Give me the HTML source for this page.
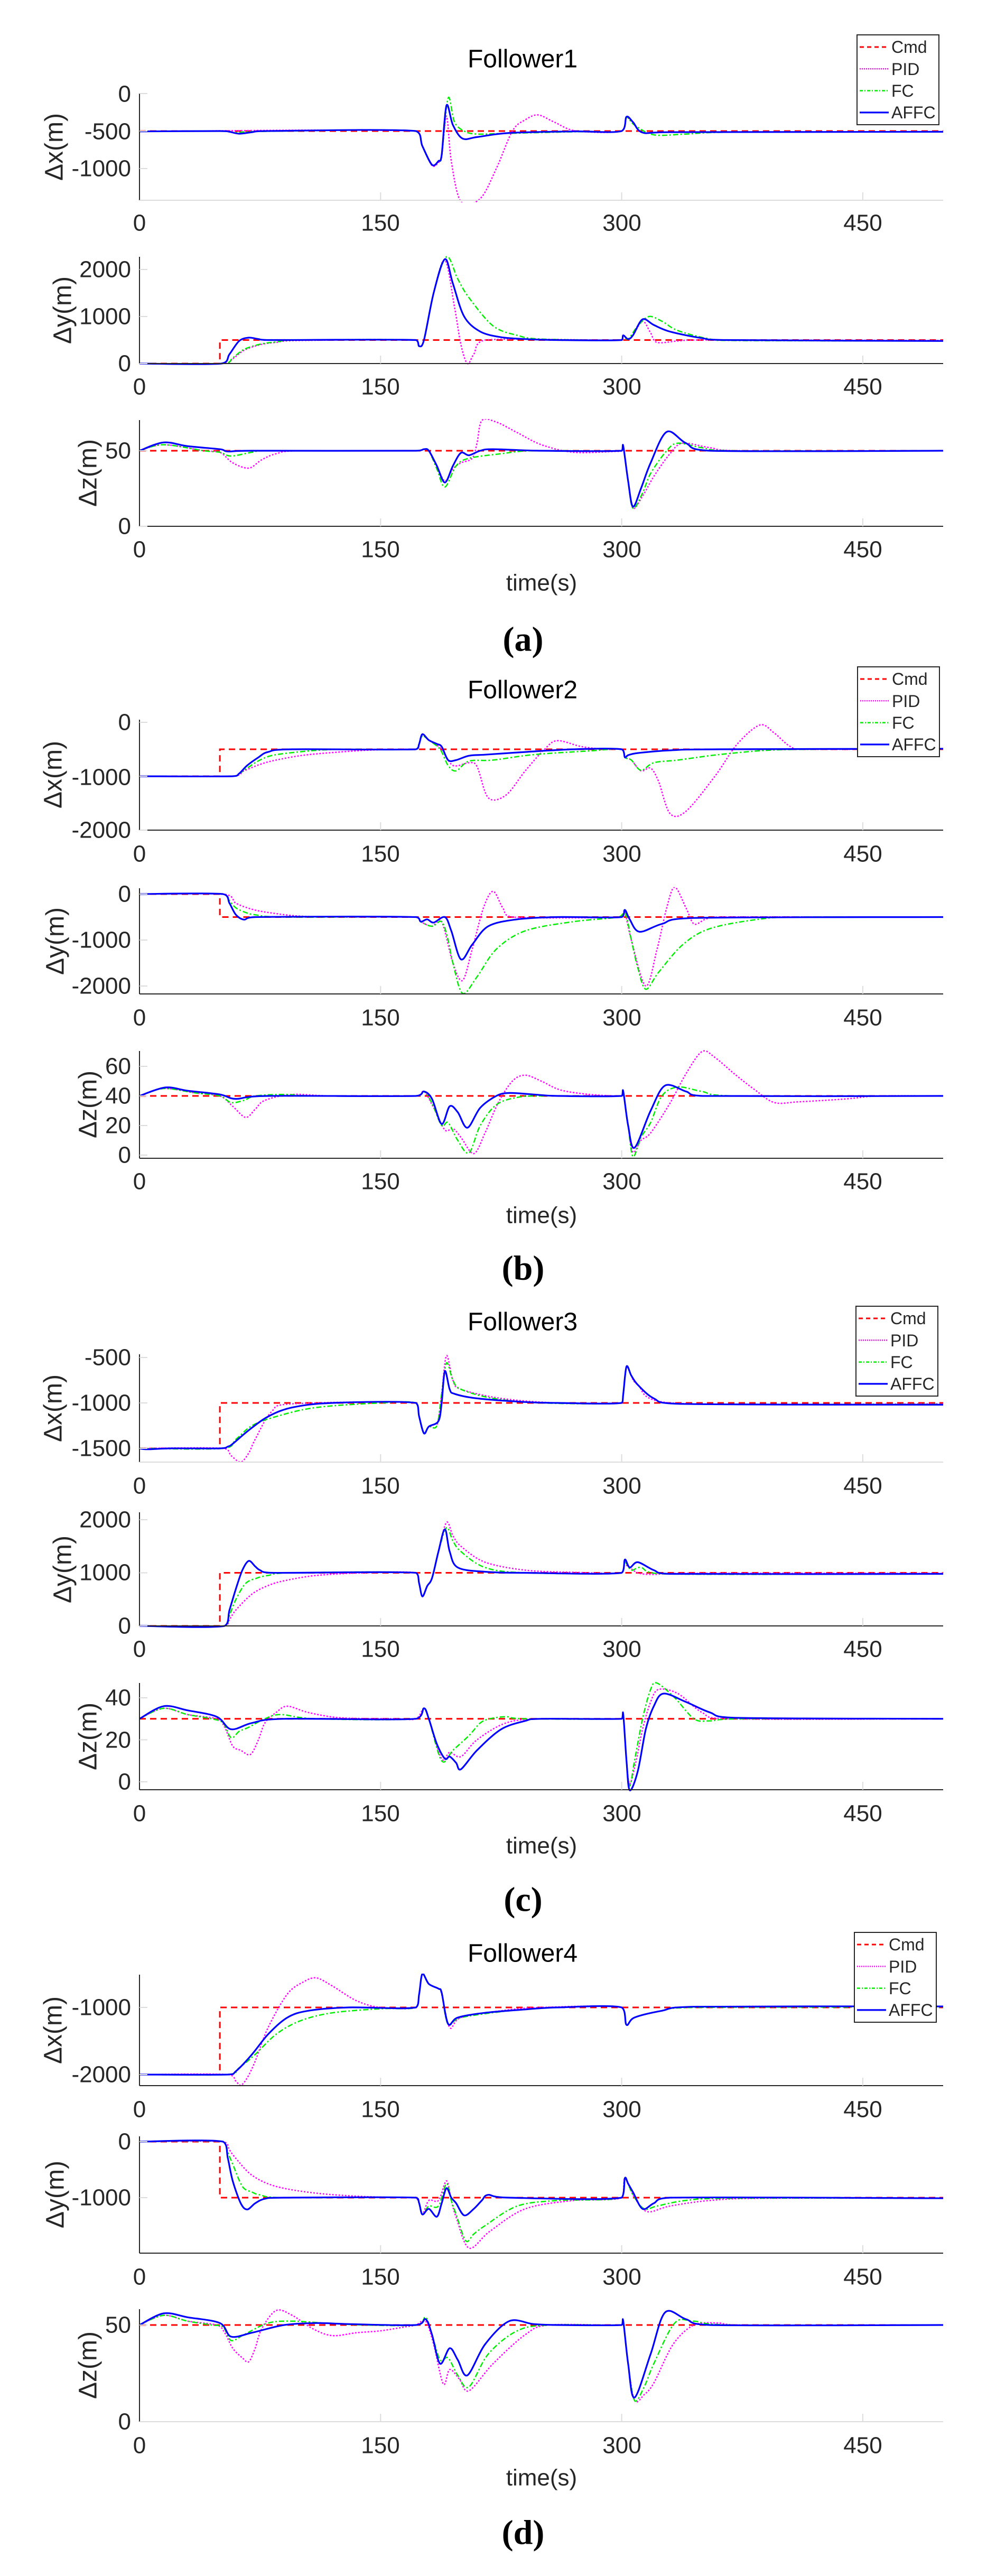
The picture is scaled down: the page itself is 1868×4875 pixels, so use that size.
<!DOCTYPE html>
<html><head><meta charset="utf-8"><style>
html,body{margin:0;padding:0;background:#fff;}
svg{display:block;}
text{font-family:"Liberation Sans",Arial,sans-serif;fill:#262626;}
.tk{font-size:44px;}
.yl{font-size:48px;}
.ti{font-size:48px;fill:#000;}
.lg{font-size:32px;fill:#000;}
.cap{font-family:"Liberation Serif",serif;font-size:66px;font-weight:bold;fill:#000;}
</style></head><body>
<svg id="s" width="1868" height="4875" viewBox="0 0 1868 4875" xmlns="http://www.w3.org/2000/svg">
<g id="plots"></g>
<g id="axes"></g>
<!-- Panel a text -->
<text class="ti" x="989" y="112" text-anchor="middle" dominant-baseline="central">Follower1</text>
<text class="yl" transform="translate(103,278) rotate(-90)" text-anchor="middle" dominant-baseline="central">Δx(m)</text>
<text class="yl" transform="translate(119,587) rotate(-90)" text-anchor="middle" dominant-baseline="central">Δy(m)</text>
<text class="yl" transform="translate(167,895) rotate(-90)" text-anchor="middle" dominant-baseline="central">Δz(m)</text>
<text class="tk" x="248" y="178" text-anchor="end" dominant-baseline="central">0</text>
<text class="tk" x="248" y="249" text-anchor="end" dominant-baseline="central">-500</text>
<text class="tk" x="248" y="319" text-anchor="end" dominant-baseline="central">-1000</text>
<text class="tk" x="248" y="510" text-anchor="end" dominant-baseline="central">2000</text>
<text class="tk" x="248" y="599" text-anchor="end" dominant-baseline="central">1000</text>
<text class="tk" x="248" y="688" text-anchor="end" dominant-baseline="central">0</text>
<text class="tk" x="248" y="853" text-anchor="end" dominant-baseline="central">50</text>
<text class="tk" x="248" y="996" text-anchor="end" dominant-baseline="central">0</text>
<g class="tk" text-anchor="middle" dominant-baseline="central">
<text x="264" y="422">0</text><text x="720" y="422">150</text><text x="1177" y="422">300</text><text x="1633" y="422">450</text>
<text x="264" y="732">0</text><text x="720" y="732">150</text><text x="1177" y="732">300</text><text x="1633" y="732">450</text>
<text x="264" y="1040">0</text><text x="720" y="1040">150</text><text x="1177" y="1040">300</text><text x="1633" y="1040">450</text>
</g>
<text class="yl" x="1025" y="1103" text-anchor="middle" dominant-baseline="central" style="font-size:44px">time(s)</text>
<text class="cap" x="990" y="1210" text-anchor="middle" dominant-baseline="central">(a)</text>

<!-- Panel b text -->
<text class="ti" x="989" y="1306" text-anchor="middle" dominant-baseline="central">Follower2</text>
<text class="yl" transform="translate(101,1466) rotate(-90)" text-anchor="middle" dominant-baseline="central">Δx(m)</text>
<text class="yl" transform="translate(105,1781) rotate(-90)" text-anchor="middle" dominant-baseline="central">Δy(m)</text>
<text class="yl" transform="translate(167,2090) rotate(-90)" text-anchor="middle" dominant-baseline="central">Δz(m)</text>
<text class="tk" x="248" y="1367" text-anchor="end" dominant-baseline="central">0</text>
<text class="tk" x="248" y="1471" text-anchor="end" dominant-baseline="central">-1000</text>
<text class="tk" x="248" y="1571" text-anchor="end" dominant-baseline="central">-2000</text>
<text class="tk" x="248" y="1692" text-anchor="end" dominant-baseline="central">0</text>
<text class="tk" x="248" y="1779" text-anchor="end" dominant-baseline="central">-1000</text>
<text class="tk" x="248" y="1866" text-anchor="end" dominant-baseline="central">-2000</text>
<text class="tk" x="248" y="2018" text-anchor="end" dominant-baseline="central">60</text>
<text class="tk" x="248" y="2074" text-anchor="end" dominant-baseline="central">40</text>
<text class="tk" x="248" y="2130" text-anchor="end" dominant-baseline="central">20</text>
<text class="tk" x="248" y="2186" text-anchor="end" dominant-baseline="central">0</text>
<g class="tk" text-anchor="middle" dominant-baseline="central">
<text x="264" y="1616">0</text><text x="720" y="1616">150</text><text x="1177" y="1616">300</text><text x="1633" y="1616">450</text>
<text x="264" y="1926">0</text><text x="720" y="1926">150</text><text x="1177" y="1926">300</text><text x="1633" y="1926">450</text>
<text x="264" y="2236">0</text><text x="720" y="2236">150</text><text x="1177" y="2236">300</text><text x="1633" y="2236">450</text>
</g>
<text class="yl" x="1025" y="2300" text-anchor="middle" dominant-baseline="central" style="font-size:44px">time(s)</text>
<text class="cap" x="990" y="2400" text-anchor="middle" dominant-baseline="central">(b)</text>

<!-- Panel c text -->
<text class="ti" x="989" y="2502" text-anchor="middle" dominant-baseline="central">Follower3</text>
<text class="yl" transform="translate(101,2665) rotate(-90)" text-anchor="middle" dominant-baseline="central">Δx(m)</text>
<text class="yl" transform="translate(119,2970) rotate(-90)" text-anchor="middle" dominant-baseline="central">Δy(m)</text>
<text class="yl" transform="translate(167,3286) rotate(-90)" text-anchor="middle" dominant-baseline="central">Δz(m)</text>
<text class="tk" x="248" y="2569" text-anchor="end" dominant-baseline="central">-500</text>
<text class="tk" x="248" y="2655" text-anchor="end" dominant-baseline="central">-1000</text>
<text class="tk" x="248" y="2741" text-anchor="end" dominant-baseline="central">-1500</text>
<text class="tk" x="248" y="2876" text-anchor="end" dominant-baseline="central">2000</text>
<text class="tk" x="248" y="2976" text-anchor="end" dominant-baseline="central">1000</text>
<text class="tk" x="248" y="3077" text-anchor="end" dominant-baseline="central">0</text>
<text class="tk" x="248" y="3213" text-anchor="end" dominant-baseline="central">40</text>
<text class="tk" x="248" y="3293" text-anchor="end" dominant-baseline="central">20</text>
<text class="tk" x="248" y="3372" text-anchor="end" dominant-baseline="central">0</text>
<g class="tk" text-anchor="middle" dominant-baseline="central">
<text x="264" y="2812">0</text><text x="720" y="2812">150</text><text x="1177" y="2812">300</text><text x="1633" y="2812">450</text>
<text x="264" y="3121">0</text><text x="720" y="3121">150</text><text x="1177" y="3121">300</text><text x="1633" y="3121">450</text>
<text x="264" y="3432">0</text><text x="720" y="3432">150</text><text x="1177" y="3432">300</text><text x="1633" y="3432">450</text>
</g>
<text class="yl" x="1025" y="3493" text-anchor="middle" dominant-baseline="central" style="font-size:44px">time(s)</text>
<text class="cap" x="990" y="3595" text-anchor="middle" dominant-baseline="central">(c)</text>

<!-- Panel d text -->
<text class="ti" x="989" y="3697" text-anchor="middle" dominant-baseline="central">Follower4</text>
<text class="yl" transform="translate(101,3842) rotate(-90)" text-anchor="middle" dominant-baseline="central">Δx(m)</text>
<text class="yl" transform="translate(105,4153) rotate(-90)" text-anchor="middle" dominant-baseline="central">Δy(m)</text>
<text class="yl" transform="translate(167,4476) rotate(-90)" text-anchor="middle" dominant-baseline="central">Δz(m)</text>
<text class="tk" x="248" y="3799" text-anchor="end" dominant-baseline="central">-1000</text>
<text class="tk" x="248" y="3926" text-anchor="end" dominant-baseline="central">-2000</text>
<text class="tk" x="248" y="4053" text-anchor="end" dominant-baseline="central">0</text>
<text class="tk" x="248" y="4159" text-anchor="end" dominant-baseline="central">-1000</text>
<text class="tk" x="248" y="4400" text-anchor="end" dominant-baseline="central">50</text>
<text class="tk" x="248" y="4583" text-anchor="end" dominant-baseline="central">0</text>
<g class="tk" text-anchor="middle" dominant-baseline="central">
<text x="264" y="3992">0</text><text x="720" y="3992">150</text><text x="1177" y="3992">300</text><text x="1633" y="3992">450</text>
<text x="264" y="4309">0</text><text x="720" y="4309">150</text><text x="1177" y="4309">300</text><text x="1633" y="4309">450</text>
<text x="264" y="4628">0</text><text x="720" y="4628">150</text><text x="1177" y="4628">300</text><text x="1633" y="4628">450</text>
</g>
<text class="yl" x="1025" y="4689" text-anchor="middle" dominant-baseline="central" style="font-size:44px">time(s)</text>
<text class="cap" x="990" y="4793" text-anchor="middle" dominant-baseline="central">(d)</text>

<!-- Legends -->
<g id="legends"></g>
<g class="lg">
<text x="1687" y="89" dominant-baseline="central">Cmd</text><text x="1687" y="131" dominant-baseline="central">PID</text><text x="1687" y="172" dominant-baseline="central">FC</text><text x="1687" y="213" dominant-baseline="central">AFFC</text>
<text x="1688" y="1285" dominant-baseline="central">Cmd</text><text x="1688" y="1327" dominant-baseline="central">PID</text><text x="1688" y="1368" dominant-baseline="central">FC</text><text x="1688" y="1409" dominant-baseline="central">AFFC</text>
<text x="1685" y="2495" dominant-baseline="central">Cmd</text><text x="1685" y="2537" dominant-baseline="central">PID</text><text x="1685" y="2578" dominant-baseline="central">FC</text><text x="1685" y="2619" dominant-baseline="central">AFFC</text>
<text x="1682" y="3680" dominant-baseline="central">Cmd</text><text x="1682" y="3722" dominant-baseline="central">PID</text><text x="1682" y="3763" dominant-baseline="central">FC</text><text x="1682" y="3804" dominant-baseline="central">AFFC</text>
</g>
</svg>
<script>
(function(){
var NS="http://www.w3.org/2000/svg";
var plots=document.getElementById('plots'),axes=document.getElementById('axes'),leg=document.getElementById('legends');
var X0=264,X1=1785;
function X(t){return X0+t*(X1-X0)/500;}
function el(n,a,p){var e=document.createElementNS(NS,n);for(var k in a)e.setAttribute(k,a[k]);(p||plots).appendChild(e);return e;}
var ST={
 cmd:{stroke:'#ff0000','stroke-width':3,'stroke-dasharray':'12 8',fill:'none'},
 pid:{stroke:'#ff00ff','stroke-width':2.5,'stroke-dasharray':'3 3',fill:'none'},
 fc:{stroke:'#00ee00','stroke-width':2.5,'stroke-dasharray':'10 4 3 4',fill:'none'},
 af:{stroke:'#0000ff','stroke-width':3.2,fill:'none'}
};
var cid=0;
function parse(s){return s.trim().split(/\s+/).map(function(p){var a=p.split(':');return [+a[0],+a[1]];});}
function smooth(pts){
 var d='M'+pts[0][0].toFixed(1)+','+pts[0][1].toFixed(1);
 for(var i=0;i<pts.length-1;i++){
  var p0=pts[i-1]||pts[i],p1=pts[i],p2=pts[i+1],p3=pts[i+2]||pts[i+1];
  var k=0.16;
  var c1x=p1[0]+(p2[0]-p0[0])*k,c1y=p1[1]+(p2[1]-p0[1])*k;
  var c2x=p2[0]-(p3[0]-p1[0])*k,c2y=p2[1]-(p3[1]-p1[1])*k;
  // clamp x to keep monotonic
  c1x=Math.min(Math.max(c1x,p1[0]),p2[0]);c2x=Math.min(Math.max(c2x,p1[0]),p2[0]);
  d+='C'+c1x.toFixed(1)+','+c1y.toFixed(1)+' '+c2x.toFixed(1)+','+c2y.toFixed(1)+' '+p2[0].toFixed(1)+','+p2[1].toFixed(1);
 }
 return d;
}
function ax(cfg){
 var v1=cfg.r[0],y1=cfg.r[1],v2=cfg.r[2],y2=cfg.r[3];
 function Y(v){return y1+(v-v1)*(y2-y1)/(v2-v1);}
 cid++;
 var cp=el('clipPath',{id:'c'+cid});
 el('rect',{x:X0,y:cfg.top-2,width:X1-X0+4,height:cfg.bot-cfg.top+6},cp);
 var g=el('g',{'clip-path':'url(#c'+cid+')'});
 // cmd
 var cmd=cfg.cmd;var cd;
 if(cmd.length==1){cd='M'+X(0)+','+Y(cmd[0])+'L'+X(500)+','+Y(cmd[0]);}
 else{cd='M'+X(0)+','+Y(cmd[0])+'L'+X(50)+','+Y(cmd[0])+'L'+X(50)+','+Y(cmd[1])+'L'+X(500)+','+Y(cmd[1]);}
 var order=[['pid',cfg.pid],['fc',cfg.fc],['af',cfg.af]];
 var p=el('path',Object.assign({d:cd},ST.cmd),g);
 order.forEach(function(o){
  var pts=parse(o[1]).map(function(q){return [X(q[0]),Y(q[1])];});
  el('path',Object.assign({d:smooth(pts),'stroke-linejoin':'round'},ST[o[0]]),g);
 });
 // axes
 var dark='#262626',light='#dcdcdc';
 el('line',{x1:X0,y1:cfg.top,x2:X0,y2:cfg.bot,stroke:dark,'stroke-width':2},axes);
 el('line',{x1:X0,y1:cfg.bot,x2:X1,y2:cfg.bot,stroke:cfg.lb?light:dark,'stroke-width':2},axes);
 [150,300,450].forEach(function(t){el('line',{x1:X(t),y1:cfg.bot,x2:X(t),y2:cfg.bot-15,stroke:light,'stroke-width':2},axes);});
 cfg.yt.forEach(function(v){el('line',{x1:X0,y1:Y(v),x2:X0+15,y2:Y(v),stroke:light,'stroke-width':2},axes);});
}
function legend(x,y){
 el('rect',{x:x,y:y,width:155,height:170,fill:'#fff',stroke:'#262626','stroke-width':2},leg);
 var k=['cmd','pid','fc','af'];
 for(var i=0;i<4;i++){var yy=y+23+i*41.3;el('line',Object.assign({x1:x+5,y1:yy,x2:x+60,y2:yy},ST[k[i]],{'stroke-dasharray':ST[k[i]]['stroke-dasharray']?({cmd:'8 6',pid:'2 2',fc:'6 3 2 3'})[k[i]]:'none'}),leg);}
}
// Panel a
ax({top:177,bot:379,r:[0,177,-1000,319],yt:[0,-500,-1000],lb:1,cmd:[-500],
 af:"0:-505 50:-500 56:-510 62:-535 70:-515 78:-500 172:-500 176:-700 182:-950 186:-900 188:-820 191:-160 195:-420 201:-600 210:-580 230:-525 270:-505 300:-500 303:-310 307:-380 313:-520 330:-515 500:-510",
 fc:"0:-505 50:-500 60:-520 75:-505 172:-500 176:-700 182:-950 186:-900 188:-820 192:-60 196:-380 202:-500 210:-540 230:-530 270:-510 300:-500 303:-320 308:-420 320:-550 340:-540 370:-515 500:-510",
 pid:"0:-505 172:-500 176:-700 182:-960 186:-920 188:-840 191:-300 194:-900 200:-1440 212:-1400 222:-1000 232:-500 240:-350 248:-285 258:-380 272:-500 300:-500 303:-320 308:-420 313:-520 330:-515 500:-510"});
ax({top:486,bot:688,r:[0,688,2000,510],yt:[0,1000,2000],cmd:[0,500],
 af:"0:0 51:0 56:200 62:480 68:550 74:520 80:500 172:500 174:370 177:500 183:1500 190:2220 195:1700 202:1000 212:680 225:560 240:520 260:500 300:500 301:600 304:520 307:600 313:940 320:820 330:680 350:540 365:500 500:480",
 fc:"0:0 52:0 58:120 65:300 75:410 85:460 100:500 172:500 174:370 177:500 183:1500 191:2270 198:1800 205:1400 220:800 235:600 250:520 300:500 301:600 304:520 310:800 317:1000 325:900 335:700 355:520 370:490 500:480",
 pid:"0:0 52:0 58:100 65:280 75:400 85:450 100:490 172:500 174:370 177:500 183:1500 190:2200 196:1200 200:400 204:0 208:200 215:500 300:500 301:600 304:520 307:600 313:900 318:650 322:450 335:480 350:500 500:490"});
ax({top:795,bot:996,r:[0,996,50,853],yt:[0,50],cmd:[50],
 af:"0:50 15:55.5 30:53 50:51 55:49.5 70:50 172:50 177:51 180:50 185:40 190:29 195:40 200:48.6 205:47 212:50 220:51 250:50 300:50 301:53 304:30 307:13 312:25 318:42 328:62.5 340:55 355:50 500:50",
 fc:"0:50 15:54 40:50 50:49 57:46.5 70:49 80:50 172:50 177:51 180:50 185:38 190:26 197:40 205:45 225:48 245:50 300:50 301:53 304:30 307:12 313:22 318:35 328:50 335:55 350:52 370:50 500:50",
 pid:"0:50 15:54 40:50 50:49 58:42 68:38.5 76:44 85:48 100:50 172:50 177:51 180:50 185:40 190:30 195:38 200:42 207:45 210:55 213:70 222:69 235:62 250:54 270:49 295:49.5 300:50 301:53 304:30 307:12 313:20 320:33 330:48 338:55 355:52 375:50 500:50"});
// Panel b
ax({top:1362,bot:1571,r:[0,1367,-2000,1571],yt:[0,-1000,-2000],cmd:[-1000,-500],
 af:"0:-1000 58:-1000 62:-950 67:-800 74:-650 80:-550 95:-500 172:-500 174:-400 176:-220 180:-330 185:-400 188:-450 192:-700 197:-700 205:-620 215:-600 240:-550 270:-500 300:-500 302:-650 304:-610 310:-570 330:-520 360:-500 500:-490",
 fc:"0:-1000 57:-1000 62:-950 67:-850 75:-700 85:-600 110:-520 130:-500 172:-500 174:-400 176:-250 180:-330 187:-500 192:-800 197:-900 205:-720 220:-700 245:-600 280:-530 300:-500 302:-650 306:-700 312:-890 320:-750 335:-700 360:-600 390:-520 420:-500 500:-490",
 pid:"0:-1000 57:-1000 65:-900 75:-780 85:-700 105:-600 140:-520 165:-500 172:-500 174:-400 176:-250 180:-330 188:-500 195:-800 205:-750 210:-820 217:-1400 228:-1350 240:-900 252:-500 260:-340 275:-450 290:-500 300:-500 302:-650 306:-700 312:-900 318:-850 323:-1100 330:-1690 340:-1650 358:-1000 372:-400 386:-50 395:-200 405:-450 415:-500 500:-490"});
ax({top:1681,bot:1881,r:[0,1692,-2000,1866],yt:[0,-1000,-2000],cmd:[0,-500],
 af:"0:0 52:0 56:-200 60:-450 65:-555 72:-500 172:-500 175:-600 179:-550 183:-620 190:-500 194:-800 200:-1420 207:-1100 217:-700 235:-550 260:-500 300:-500 302:-345 305:-550 311:-820 325:-650 345:-520 500:-500",
 fc:"0:0 52:0 56:-150 60:-300 66:-400 72:-450 90:-500 172:-500 175:-600 182:-700 188:-600 192:-1000 195:-1500 201:-2160 210:-1800 222:-1200 240:-800 270:-600 298:-500 302:-380 306:-1000 310:-1600 315:-2070 323:-1700 338:-1100 355:-750 385:-550 410:-500 500:-500",
 pid:"0:0 52:0 60:-200 70:-330 80:-400 100:-480 130:-500 172:-500 175:-600 182:-700 188:-600 195:-1500 201:-1880 207:-1200 214:-300 220:60 226:-300 232:-500 300:-500 302:-400 306:-1000 315:-2000 322:-1200 328:-300 333:150 340:-300 345:-650 352:-550 360:-500 500:-500"});
ax({top:1989,bot:2192,r:[0,2186,60,2018],yt:[0,20,40,60],cmd:[40],
 af:"0:40 16:45.7 30:43.5 50:41 60:38 80:40 172:40 177:43 182:38 188:21 193:33 198:29 204:18.5 212:32 222:40 230:42 245:41 260:40 300:40 301:43 304:20 308:5 318:30 327:47 340:43 350:40 500:40",
 fc:"0:40 15:45 35:42 50:40 57:35.5 65:37 72:40 90:41 110:40 172:40 177:43 182:35 188:20 192:22 198:10 205:1.5 212:20 222:34 235:39 250:40 300:40 301:42 304:20 307:-1 312:12 318:22 325:40 335:46 350:43 370:40 500:40",
 pid:"0:40 15:45 35:42 50:40 58:33 66:25.5 72:31 78:37 95:41 120:40 172:40 177:43 183:32 190:17 195:18 200:12 208:1 215:15 223:35 232:50 240:54 250:50 262:44 280:41 300:40 301:42 304:20 307:2 312:10 318:15 330:35 340:55 350:70 358:66 370:55 383:44 395:35.5 410:36 440:38 460:40 500:40"});
// Panel c
ax({top:2563,bot:2767,r:[-500,2569,-1500,2741],yt:[-500,-1000,-1500],lb:1,cmd:[-1500,-1000],
 af:"0:-1500 5:-1510 20:-1500 50:-1500 55:-1480 58:-1450 68:-1300 80:-1150 95:-1050 120:-1000 172:-1000 174:-1150 177:-1335 180:-1260 186:-1200 188:-1000 190:-650 193:-850 196:-900 210:-950 240:-990 260:-1000 300:-1000 301:-900 303:-600 306:-700 310:-800 320:-950 335:-1010 500:-1020",
 fc:"0:-1500 52:-1500 60:-1400 70:-1250 85:-1150 110:-1050 150:-1000 172:-1000 174:-1150 177:-1330 180:-1260 185:-1250 188:-900 191:-560 195:-750 200:-850 220:-950 250:-1000 300:-1000 301:-900 303:-610 306:-700 310:-800 320:-950 335:-1010 500:-1015",
 pid:"0:-1500 52:-1500 57:-1580 63:-1650 68:-1550 72:-1400 82:-1100 95:-1010 172:-1000 174:-1150 177:-1330 180:-1260 185:-1250 188:-900 191:-480 195:-750 200:-850 225:-950 260:-1000 300:-1000 301:-900 303:-610 306:-700 310:-800 330:-1000 500:-1010"});
ax({top:2862,bot:3077,r:[0,3077,2000,2876],yt:[0,1000,2000],cmd:[0,1000],
 af:"0:0 53:0 56:300 60:700 64:1050 68:1225 72:1120 75:1050 82:1000 172:1000 174:800 176:555 179:750 182:900 186:1400 190:1820 193:1400 198:1100 215:1020 240:1000 300:1000 302:1250 305:1100 310:1200 320:1050 330:980 500:980",
 fc:"0:0 53:0 56:200 60:500 66:800 73:900 80:950 95:1000 172:1000 174:800 176:555 179:750 182:900 186:1400 191:1850 195:1600 200:1400 215:1100 240:1000 300:1000 302:1200 306:1050 312:1100 325:980 500:980",
 pid:"0:0 53:0 56:120 60:300 70:600 80:760 90:850 110:950 140:1000 172:1000 174:800 176:555 179:750 182:900 186:1400 191:1950 195:1700 200:1500 215:1200 240:1050 270:1010 300:1000 302:1150 310:1000 320:970 340:990 500:990"});
ax({top:3185,bot:3387,r:[0,3372,40,3213],yt:[0,20,40],cmd:[30],
 af:"0:30 15:36 30:34 48:31 57:25 70:28 90:30 172:30 177:35 180:30 185:18 190:11 193:12 197:9 200:6 210:15 225:25 240:29 250:30 300:30 301:32 303:10 305:-4 310:5 315:25 320:36 326:42 340:38 355:33 370:30.5 500:30",
 fc:"0:30 15:35 30:32 45:30 52:28 57:21 62:24 68:26 78:30 88:32 110:30 172:30 177:35 180:30 188:10 195:15 205:22 212:28 218:30 228:31 240:30 300:30 301:32 303:10 305:-2 308:10 313:30 318:44 322:47 333:40 345:30 355:29 375:30 500:30",
 pid:"0:30 15:35 30:32 48:30 53:26 58:17 63:15 69:13 74:20 78:28 85:33 92:36 105:33 125:30.5 160:30 172:30 177:35 180:30 188:11 193:14 200:12 210:20 228:28 250:30 300:30 301:32 303:10 305:-1 309:10 313:25 318:38 323:44 335:42 350:33 365:30 500:30"});
// Panel d
ax({top:3737,bot:3947,r:[-1000,3799,-2000,3926],yt:[-1000,-2000],cmd:[-2000,-1000],
 af:"0:-2000 55:-2000 60:-1950 70:-1700 80:-1400 92:-1150 105:-1050 130:-1000 172:-1000 174:-800 176:-500 180:-650 186:-720 188:-780 192:-1245 198:-1150 215:-1080 240:-1030 260:-1000 300:-1000 303:-1260 308:-1150 325:-1050 345:-990 500:-985",
 fc:"0:-2000 55:-2000 62:-1900 72:-1700 85:-1400 100:-1200 120:-1080 150:-1020 172:-1000 174:-800 176:-500 180:-650 186:-720 188:-780 192:-1250 200:-1150 230:-1050 260:-1000 300:-1000 303:-1260 308:-1150 325:-1050 345:-1000 500:-995",
 pid:"0:-2000 55:-2000 60:-2100 63:-2160 67:-2050 72:-1800 80:-1300 92:-800 102:-620 110:-560 120:-680 135:-900 150:-1000 172:-1000 174:-800 176:-500 180:-650 186:-720 188:-800 193:-1300 200:-1150 225:-1050 250:-1000 300:-1000 303:-1260 308:-1150 325:-1050 345:-990 500:-985"});
ax({top:4043,bot:4264,r:[0,4053,-1000,4159],yt:[0,-1000],cmd:[0,-1000],
 af:"0:0 52:0 55:-300 58:-700 63:-1100 67:-1210 72:-1100 78:-1020 90:-1000 172:-1000 174:-1100 176:-1300 180:-1200 185:-1340 188:-1100 191:-830 194:-1000 197:-1100 202:-1316 208:-1200 213:-1050 217:-950 230:-1000 300:-1000 302:-650 304:-750 307:-900 313:-1200 320:-1100 330:-1000 500:-1010",
 fc:"0:0 52:0 55:-200 58:-400 64:-800 70:-900 75:-950 90:-1000 172:-1000 174:-1100 176:-1300 180:-1150 186:-1150 191:-750 194:-1050 197:-1300 203:-1770 208:-1650 215:-1500 235:-1150 260:-1050 300:-1000 302:-650 307:-950 314:-1200 322:-1150 340:-1050 370:-1010 500:-1010",
 pid:"0:0 52:0 56:-150 60:-300 70:-600 85:-800 110:-920 140:-980 170:-1000 172:-1000 174:-1100 176:-1300 180:-1050 186:-1050 191:-700 194:-1050 197:-1350 205:-1900 218:-1600 240:-1200 270:-1050 300:-1000 302:-650 308:-1000 316:-1250 330:-1150 355:-1050 390:-1010 500:-1010"});
ax({top:4370,bot:4583,r:[0,4583,50,4400],yt:[0,50],lb:1,cmd:[50],
 af:"0:50 15:56 30:54 50:51 57:44 70:46 90:50 110:51 130:50.5 172:50 178:53 182:45 187:30 193:38 198:32 204:24 215:40 230:52 245:50.5 260:50 300:50 301:52 304:30 308:12.5 318:35 327:56.5 340:53 355:50 500:50",
 fc:"0:50 15:55 30:52 45:50 52:49 57:42 65:45 80:51 95:52 115:51 140:50 172:50 178:54 182:45 187:32 192:33 198:24 205:18 217:35 235:47 255:50 300:50 301:52 304:30 308:11 314:18 320:30 333:51 345:52 370:50 500:50",
 pid:"0:50 15:55 30:52 48:50 53:46 58:38 64:33 68:31 72:38 76:48 85:57.5 95:55 108:48 120:44.5 135:46 150:47 165:49 172:50 178:52 183:40 189:19.5 193:27 199:22 205:16 220:30 240:45 255:50 300:50 301:52 304:30 308:11 314:14 320:20 332:40 345:50 360:51 375:50 500:50"});
legend(1622,66);legend(1623,1262);legend(1620,2472);legend(1617,3657);
})();
</script>
</body></html>
